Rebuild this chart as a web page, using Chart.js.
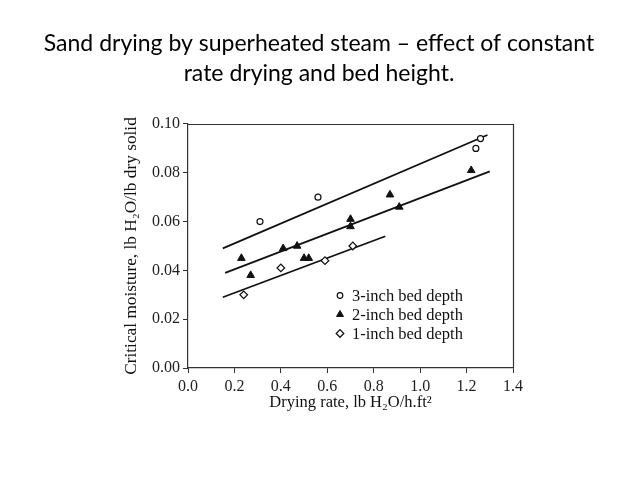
<!DOCTYPE html>
<html>
<head>
<meta charset="utf-8">
<script src="https://cdn.jsdelivr.net/npm/chart.js@4.4.1/dist/chart.umd.min.js"></script>
<style>
  html, body { margin: 0; padding: 0; background: #fff; }
  #wrap { width: 638px; height: 478px; }
</style>
</head>
<body>
<div id="wrap"><canvas id="c" width="638" height="478"></canvas></div>
<script>
// ---- Data ----
const titleLines = ["Sand drying by superheated steam \u2013 effect of constant", "rate drying and bed height."];
const xTitle = "Drying rate, lb H\u2082O/h.ft\u00B2";
const yTitle = "Critical moisture, lb H\u2082O/lb dry solid";
const seriesLabels = ["3-inch bed depth", "2-inch bed depth", "1-inch bed depth"];

const x3 = [0.31, 0.56, 1.24, 1.26];
const y3 = [0.060, 0.070, 0.090, 0.094];

const x2 = [0.23, 0.27, 0.41, 0.47, 0.50, 0.52, 0.70, 0.70, 0.87, 0.91, 1.22];
const y2 = [0.045, 0.038, 0.049, 0.050, 0.045, 0.045, 0.061, 0.058, 0.071, 0.066, 0.081];

const x1 = [0.24, 0.40, 0.59, 0.71];
const y1 = [0.030, 0.041, 0.044, 0.050];

// fitted straight lines (end points)
const fit3x = [0.15, 1.29], fit3y = [0.049, 0.0955];
const fit2x = [0.16, 1.30], fit2y = [0.039, 0.0806];
const fit1x = [0.15, 0.85], fit1y = [0.029, 0.054];

const xTicks = [0.0, 0.2, 0.4, 0.6, 0.8, 1.0, 1.2, 1.4];
const yTicks = [0.00, 0.02, 0.04, 0.06, 0.08, 0.10];

// ---- helpers ----
const pts = (xs, ys) => xs.map((x, i) => ({x: x, y: ys[i]}));
const serif = "'Liberation Serif', 'DejaVu Serif', serif";
const ink = '#111';

const frame = {
  id: 'frame',
  afterDraw(chart) {
    const {ctx, chartArea: a} = chart;
    ctx.save();
    ctx.strokeStyle = '#333';
    ctx.lineWidth = 1.2;
    ctx.beginPath();
    ctx.moveTo(a.left, a.top + 0.5);
    ctx.lineTo(a.right + 0.5, a.top + 0.5);
    ctx.lineTo(a.right + 0.5, a.bottom);
    ctx.stroke();
    ctx.restore();
  }
};

const innerLegend = {
  id: 'innerLegend',
  afterDatasetsDraw(chart) {
    const {ctx, chartArea: a} = chart;
    const items = chart.data.datasets.filter(d => d.inLegend);
    ctx.save();
    ctx.textBaseline = 'middle';
    ctx.textAlign = 'left';
    items.forEach((d, i) => {
      const sx = a.left + 152, sy = a.top + 171.5 + i * 19;
      ctx.fillStyle = d.backgroundColor;
      ctx.strokeStyle = d.borderColor;
      ctx.lineWidth = d.borderWidth;
      Chart.helpers.drawPoint(ctx, {
        pointStyle: d.pointStyle,
        radius: d.legendRadius,
        borderWidth: d.borderWidth
      }, sx, sy);
      ctx.font = "16.5px " + serif;
      ctx.fillStyle = ink;
      ctx.fillText(d.label, sx + 12, sy + 1);
    });
    ctx.restore();
  }
};

Chart.defaults.font.family = serif;

const ds = [
  { label: seriesLabels[0], inLegend: true, data: pts(x3, y3), pointStyle: 'circle', pointRadius: 3.0, legendRadius: 2.8,
    borderColor: ink, backgroundColor: '#ffffff', borderWidth: 1.2, showLine: false },
  { label: seriesLabels[1], inLegend: true, data: pts(x2, y2), pointStyle: 'triangle', pointRadius: 4.4, legendRadius: 4.0,
    borderColor: ink, backgroundColor: ink, borderWidth: 1, showLine: false },
  { label: seriesLabels[2], inLegend: true, data: pts(x1, y1), pointStyle: 'rectRot', pointRadius: 3.8, legendRadius: 3.8,
    borderColor: ink, backgroundColor: '#ffffff', borderWidth: 1.2, showLine: false },
  { label: 'fit3', data: pts(fit3x, fit3y), showLine: true, pointRadius: 0, borderColor: ink, borderWidth: 1.8, order: 5 },
  { label: 'fit2', data: pts(fit2x, fit2y), showLine: true, pointRadius: 0, borderColor: ink, borderWidth: 1.8, order: 5 },
  { label: 'fit1', data: pts(fit1x, fit1y), showLine: true, pointRadius: 0, borderColor: ink, borderWidth: 1.8, order: 5 }
];

new Chart(document.getElementById('c'), {
  type: 'scatter',
  data: { datasets: ds },
  plugins: [frame, innerLegend],
  options: {
    responsive: false,
    animation: false,
    devicePixelRatio: 1,
    layout: { padding: { left: 0, right: 0, top: 0, bottom: 60 } },
    plugins: {
      legend: { display: false },
      tooltip: { enabled: false },
      title: {
        display: true,
        text: titleLines,
        color: '#000',
        font: { family: "Lato, 'Open Sans', sans-serif", size: 23, weight: 'normal', lineHeight: 1.304 },
        padding: { top: 29, bottom: 35 }
      }
    },
    scales: {
      x: {
        type: 'linear',
        min: 0, max: 1.4,
        afterBuildTicks: s => { s.ticks = xTicks.map(v => ({value: v})); },
        afterFit: s => { s.height = 50; },
        border: { color: '#333', width: 1.2 },
        grid: { display: true, drawOnChartArea: false, drawTicks: true, tickLength: 5, color: '#333' },
        ticks: { color: '#222', font: { size: 16, family: serif }, padding: 4, callback: v => v.toFixed(1) },
        title: { display: true, text: xTitle, color: '#111', font: { size: 16.5, family: serif }, padding: { top: 0, bottom: 5 } }
      },
      y: {
        type: 'linear',
        min: 0, max: 0.10,
        afterBuildTicks: s => { s.ticks = yTicks.map(v => ({value: v})); },
        afterFit: s => { s.width = 188; },
        border: { color: '#333', width: 1.2 },
        grid: { display: true, drawOnChartArea: false, drawTicks: true, tickLength: 5, color: '#333' },
        ticks: { color: '#222', font: { size: 16, family: serif }, padding: 3, callback: v => v.toFixed(2) },
        title: { display: true, text: yTitle, color: '#111', font: { size: 17.3, family: serif }, padding: { top: 121, bottom: 0 } }
      },
      yRight: {
        type: 'linear',
        position: 'right',
        min: 0, max: 0.10,
        afterFit: s => { s.width = 125; },
        border: { display: false },
        grid: { display: false },
        ticks: { display: false }
      }
    }
  }
});
</script>
</body>
</html>
